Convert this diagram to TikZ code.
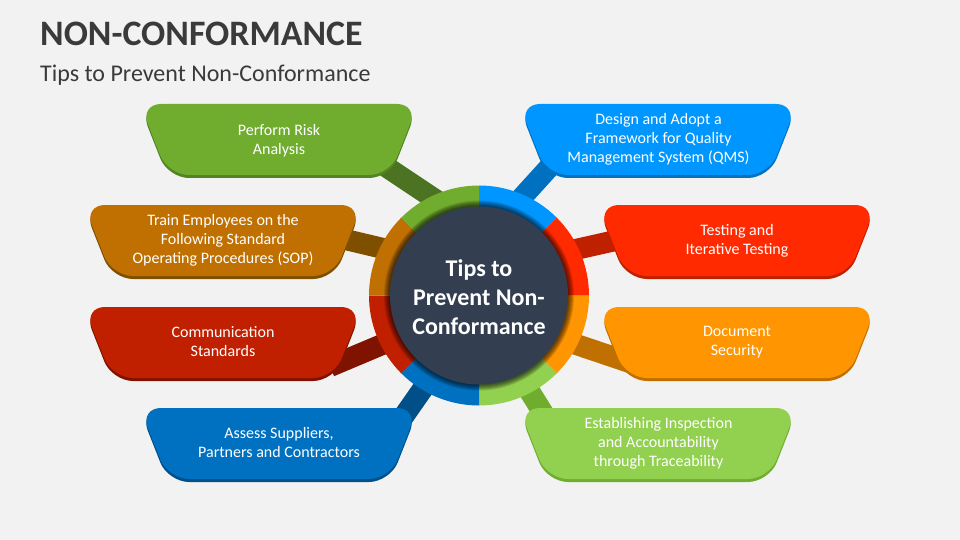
\documentclass[tikz,border=0pt]{standalone}
\usepackage{fontspec}
\setmainfont{Carlito}
\usetikzlibrary{calc}
\pgfdeclarelayer{under}
\pgfsetlayers{under,main}
\definecolor{pagebg}{HTML}{F2F2F2}
\definecolor{inktitle}{HTML}{3A3A3A}
\definecolor{hubfill}{HTML}{333F50}
\definecolor{cgreen}{HTML}{70AD2F}
\definecolor{cgreenD}{HTML}{548325}
\definecolor{cgreenC}{HTML}{4B7321}
\definecolor{cblue}{HTML}{0096FF}
\definecolor{cblueD}{HTML}{0070C0}
\definecolor{cred}{HTML}{FF2A00}
\definecolor{credD}{HTML}{BF2000}
\definecolor{corange}{HTML}{FF9500}
\definecolor{corangeD}{HTML}{BF7000}
\definecolor{clime}{HTML}{92D050}
\definecolor{climeD}{HTML}{70AD2F}
\definecolor{cnavy}{HTML}{0070C0}
\definecolor{cnavyD}{HTML}{004F88}
\definecolor{cbrick}{HTML}{C01F00}
\definecolor{cbrickD}{HTML}{7F1300}
\definecolor{cbrown}{HTML}{BF7000}
\definecolor{cbrownD}{HTML}{7F4F00}
\tikzset{
  cardtext/.style={text=white,font=\fontsize{16}{19}\selectfont,align=center,minimum width=267pt,minimum height=71pt,inner sep=0pt},
  linkbar/.style={line width=21pt},
}
\newcommand{\cardshape}[4]{%
  \fill[#4,rounded corners=21pt] ($(#1,#2)+(-6,3)$) -- ++(278,0) -- ++(-28,71) -- ++(-222,0) -- cycle;
  \fill[#3,rounded corners=21pt] ($(#1,#2)+(-6,0)$) -- ++(278,0) -- ++(-28,71) -- ++(-222,0) -- cycle;
}
\newcommand{\sectorpie}[2]{%
  \fill[#2] (0,0) -- (#1:110) arc[start angle=#1,end angle=#1-45,radius=110] -- cycle;
}
\begin{document}
\begin{tikzpicture}[x=1pt,y=-1pt]
\useasboundingbox (0,0) rectangle (960,540);
\begin{pgfonlayer}{under}
\fill[pagebg] (0,0) rectangle (960,540);
\end{pgfonlayer}
\node[anchor=base west,inner sep=0pt,text=inktitle,font=\fontsize{35.8}{36}\selectfont\bfseries] (title) at (40,46) {NON-CONFORMANCE};
\node[anchor=base west,inner sep=0pt,text=inktitle,font=\fontsize{24}{24}\selectfont] (subtitle) at (40,82) {Tips to Prevent Non-Conformance};
% ring
\begin{scope}[shift={(479,295.5)},yscale=-1]
\sectorpie{90}{cblue}
\sectorpie{45}{cred}
\sectorpie{0}{corange}
\sectorpie{-45}{clime}
\sectorpie{-90}{cnavy}
\sectorpie{-135}{cbrick}
\sectorpie{180}{cbrown}
\sectorpie{135}{cgreen}
\foreach \r in {95,94,93,92,91,90}{\fill[black,opacity=0.13] (0,0) circle[radius=\r];}
\end{scope}
\node[circle,fill=hubfill,minimum size=178pt,inner sep=0pt] (hub) at (479,295.5) {};
\node[inner sep=0pt,text=white,align=center,font=\fontsize{24}{29}\selectfont\bfseries] (hubtext) at (479,297.5) {Tips to\\Prevent Non-\\Conformance};
% cards
\cardshape{146}{104}{cgreen}{cgreenD}
\node[cardtext] (c1) at (279,140.5) {Perform Risk\\Analysis};
\cardshape{525}{104}{cblue}{cblueD}
\node[cardtext] (c2) at (658.5,139.5) {Design and Adopt a\\Framework for Quality\\Management System (QMS)};
\cardshape{604}{205}{cred}{credD}
\node[cardtext] (c3) at (737,241) {Testing and\\Iterative Testing};
\cardshape{604}{307}{corange}{corangeD}
\node[cardtext] (c4) at (737,342) {Document\\Security};
\cardshape{525}{408}{clime}{climeD}
\node[cardtext] (c5) at (658.5,443.5) {Establishing Inspection\\and Accountability\\through Traceability};
\cardshape{146}{408}{cnavy}{cnavyD}
\node[cardtext] (c6) at (279,442.5) {Assess Suppliers,\\Partners and Contractors};
\cardshape{90}{307}{cbrick}{cbrickD}
\node[cardtext] (c7) at (223,342) {Communication\\Standards};
\cardshape{90}{205}{cbrown}{cbrownD}
\node[cardtext] (c8) at (223,240.5) {Train Employees on the\\Following Standard\\Operating Procedures (SOP)};
% connectors
\begin{pgfonlayer}{under}
\draw[linkbar,cgreenC] ([shift={(106,25.5)}]c1.center) -- ([shift={(-19,-79.5)}]hub.center);
\draw[linkbar,cblueD] ([shift={(-93.5,10.5)}]c2.center) -- ([shift={(26,-79.5)}]hub.center);
\draw[linkbar,credD] ([shift={(-97,-6)}]c3.center) -- ([shift={(81,-42.5)}]hub.center);
\draw[linkbar,corangeD] ([shift={(-97,24)}]c4.center) -- ([shift={(81,43.5)}]hub.center);
\draw[linkbar,climeD] ([shift={(-103.5,-11.5)}]c5.center) -- ([shift={(36,72.5)}]hub.center);
\draw[linkbar,cnavyD] ([shift={(106,0.5)}]c6.center) -- ([shift={(-34,61.5)}]hub.center);
\draw[linkbar,cbrickD] ([shift={(107,24.5)}]c7.center) -- ([shift={(-79,41.5)}]hub.center);
\draw[linkbar,cbrownD] ([shift={(97,-7)}]c8.center) -- ([shift={(-79,-43)}]hub.center);
\end{pgfonlayer}
\end{tikzpicture}
\end{document}
